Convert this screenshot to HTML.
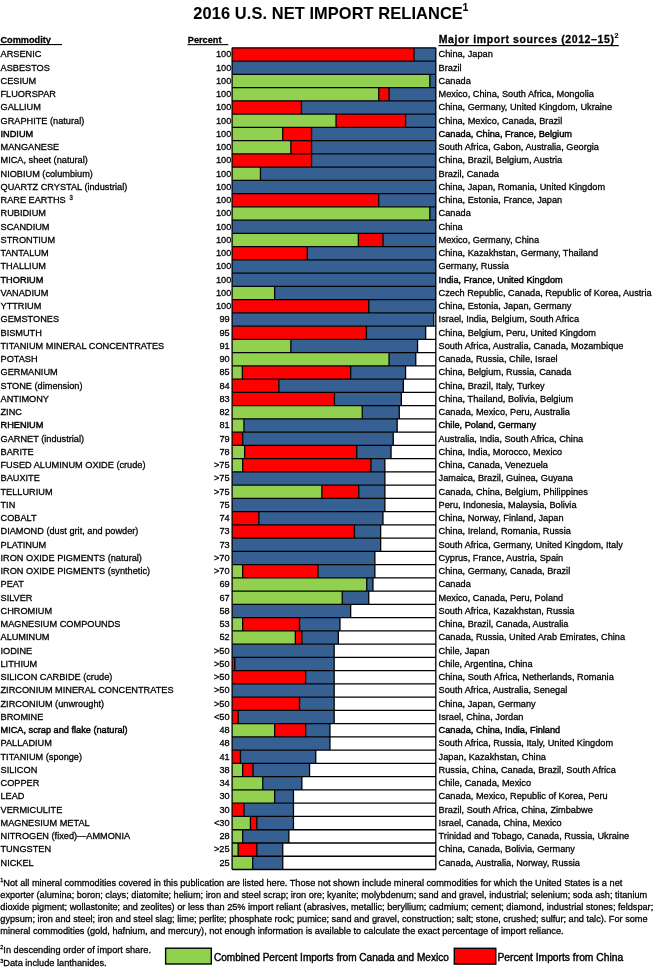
<!DOCTYPE html>
<html><head><meta charset="utf-8"><style>
html,body{margin:0;padding:0;background:#fff;}
body{width:656px;height:970px;overflow:hidden;position:relative;}
svg{position:absolute;left:0;top:0;}
text{font-family:"Liberation Sans",Arial,sans-serif;font-size:9.2px;fill:#000;stroke:#000;stroke-width:0.28px;}
.sup{font-size:6px;}
.ft{font-size:9.2px;}
.fs{font-size:5.5px;}
.hd{font-weight:bold;}
.bb{stroke-width:0.42px;}
.lg{font-size:10.2px;stroke-width:0.4px;}
</style></head><body>
<svg width="656" height="970" viewBox="0 0 656 970">
<text x="193.3" y="19.1" style="font-size:16.4px;font-weight:bold;stroke-width:0.05px" textLength="269.5" lengthAdjust="spacing">2016 U.S. NET IMPORT RELIANCE</text>
<text x="462.4" y="11.0" style="font-size:10.6px;font-weight:bold;stroke-width:0.05px">1</text>
<text class="hd" x="0.4" y="42.7" style="font-size:9.2px">Commodity</text>
<rect x="0" y="44.0" width="62" height="1.1" fill="#000"/>
<text class="hd" x="187.8" y="42.8" style="font-size:9.2px">Percent</text>
<rect x="187.5" y="44.1" width="40.8" height="1.1" fill="#000"/>
<text class="hd" x="438.7" y="42.9" style="font-size:10.5px" textLength="175.2" lengthAdjust="spacing">Major import sources (2012–15)</text>
<text class="hd" x="614.6" y="37.6" style="font-size:7.2px;stroke-width:0.1px">2</text>
<rect x="438.5" y="45.0" width="180.3" height="1.2" fill="#000"/>
<rect x="232.10" y="47.80" width="203.70" height="13.253" fill="#fff"/><rect x="232.10" y="61.05" width="203.70" height="13.253" fill="#fff"/><rect x="232.10" y="74.31" width="203.70" height="13.253" fill="#fff"/><rect x="232.10" y="87.56" width="203.70" height="13.253" fill="#fff"/><rect x="232.10" y="100.81" width="203.70" height="13.253" fill="#fff"/><rect x="232.10" y="114.06" width="203.70" height="13.253" fill="#fff"/><rect x="232.10" y="127.32" width="203.70" height="13.253" fill="#fff"/><rect x="232.10" y="140.57" width="203.70" height="13.253" fill="#fff"/><rect x="232.10" y="153.82" width="203.70" height="13.253" fill="#fff"/><rect x="232.10" y="167.08" width="203.70" height="13.253" fill="#fff"/><rect x="232.10" y="180.33" width="203.70" height="13.253" fill="#fff"/><rect x="232.10" y="193.58" width="203.70" height="13.253" fill="#fff"/><rect x="232.10" y="206.84" width="203.70" height="13.253" fill="#fff"/><rect x="232.10" y="220.09" width="203.70" height="13.253" fill="#fff"/><rect x="232.10" y="233.34" width="203.70" height="13.253" fill="#fff"/><rect x="232.10" y="246.60" width="203.70" height="13.253" fill="#fff"/><rect x="232.10" y="259.85" width="203.70" height="13.253" fill="#fff"/><rect x="232.10" y="273.10" width="203.70" height="13.253" fill="#fff"/><rect x="232.10" y="286.35" width="203.70" height="13.253" fill="#fff"/><rect x="232.10" y="299.61" width="203.70" height="13.253" fill="#fff"/><rect x="232.10" y="312.86" width="203.70" height="13.253" fill="#fff"/><rect x="232.10" y="326.11" width="203.70" height="13.253" fill="#fff"/><rect x="232.10" y="339.37" width="203.70" height="13.253" fill="#fff"/><rect x="232.10" y="352.62" width="203.70" height="13.253" fill="#fff"/><rect x="232.10" y="365.87" width="203.70" height="13.253" fill="#fff"/><rect x="232.10" y="379.12" width="203.70" height="13.253" fill="#fff"/><rect x="232.10" y="392.38" width="203.70" height="13.253" fill="#fff"/><rect x="232.10" y="405.63" width="203.70" height="13.253" fill="#fff"/><rect x="232.10" y="418.88" width="203.70" height="13.253" fill="#fff"/><rect x="232.10" y="432.14" width="203.70" height="13.253" fill="#fff"/><rect x="232.10" y="445.39" width="203.70" height="13.253" fill="#fff"/><rect x="232.10" y="458.64" width="203.70" height="13.253" fill="#fff"/><rect x="232.10" y="471.90" width="203.70" height="13.253" fill="#fff"/><rect x="232.10" y="485.15" width="203.70" height="13.253" fill="#fff"/><rect x="232.10" y="498.40" width="203.70" height="13.253" fill="#fff"/><rect x="232.10" y="511.66" width="203.70" height="13.253" fill="#fff"/><rect x="232.10" y="524.91" width="203.70" height="13.253" fill="#fff"/><rect x="232.10" y="538.16" width="203.70" height="13.253" fill="#fff"/><rect x="232.10" y="551.41" width="203.70" height="13.253" fill="#fff"/><rect x="232.10" y="564.67" width="203.70" height="13.253" fill="#fff"/><rect x="232.10" y="577.92" width="203.70" height="13.253" fill="#fff"/><rect x="232.10" y="591.17" width="203.70" height="13.253" fill="#fff"/><rect x="232.10" y="604.43" width="203.70" height="13.253" fill="#fff"/><rect x="232.10" y="617.68" width="203.70" height="13.253" fill="#fff"/><rect x="232.10" y="630.93" width="203.70" height="13.253" fill="#fff"/><rect x="232.10" y="644.18" width="203.70" height="13.253" fill="#fff"/><rect x="232.10" y="657.44" width="203.70" height="13.253" fill="#fff"/><rect x="232.10" y="670.69" width="203.70" height="13.253" fill="#fff"/><rect x="232.10" y="683.94" width="203.70" height="13.253" fill="#fff"/><rect x="232.10" y="697.20" width="203.70" height="13.253" fill="#fff"/><rect x="232.10" y="710.45" width="203.70" height="13.253" fill="#fff"/><rect x="232.10" y="723.70" width="203.70" height="13.253" fill="#fff"/><rect x="232.10" y="736.96" width="203.70" height="13.253" fill="#fff"/><rect x="232.10" y="750.21" width="203.70" height="13.253" fill="#fff"/><rect x="232.10" y="763.46" width="203.70" height="13.253" fill="#fff"/><rect x="232.10" y="776.71" width="203.70" height="13.253" fill="#fff"/><rect x="232.10" y="789.97" width="203.70" height="13.253" fill="#fff"/><rect x="232.10" y="803.22" width="203.70" height="13.253" fill="#fff"/><rect x="232.10" y="816.47" width="203.70" height="13.253" fill="#fff"/><rect x="232.10" y="829.73" width="203.70" height="13.253" fill="#fff"/><rect x="232.10" y="842.98" width="203.70" height="13.253" fill="#fff"/><rect x="232.10" y="856.23" width="203.70" height="13.253" fill="#fff"/><rect x="232.10" y="47.80" width="181.85" height="13.253" fill="#FF0000"/><rect x="413.95" y="47.80" width="21.85" height="13.253" fill="#376092"/><rect x="232.10" y="61.05" width="203.70" height="13.253" fill="#376092"/><rect x="232.10" y="74.31" width="197.75" height="13.253" fill="#92D050"/><rect x="429.85" y="74.31" width="5.95" height="13.253" fill="#376092"/><rect x="232.10" y="87.56" width="146.65" height="13.253" fill="#92D050"/><rect x="378.75" y="87.56" width="10.30" height="13.253" fill="#FF0000"/><rect x="389.05" y="87.56" width="46.75" height="13.253" fill="#376092"/><rect x="232.10" y="100.81" width="69.35" height="13.253" fill="#FF0000"/><rect x="301.45" y="100.81" width="134.35" height="13.253" fill="#376092"/><rect x="232.10" y="114.06" width="103.95" height="13.253" fill="#92D050"/><rect x="336.05" y="114.06" width="69.50" height="13.253" fill="#FF0000"/><rect x="405.55" y="114.06" width="30.25" height="13.253" fill="#376092"/><rect x="232.10" y="127.32" width="50.65" height="13.253" fill="#92D050"/><rect x="282.75" y="127.32" width="28.80" height="13.253" fill="#FF0000"/><rect x="311.55" y="127.32" width="124.25" height="13.253" fill="#376092"/><rect x="232.10" y="140.57" width="58.75" height="13.253" fill="#92D050"/><rect x="290.85" y="140.57" width="20.70" height="13.253" fill="#FF0000"/><rect x="311.55" y="140.57" width="124.25" height="13.253" fill="#376092"/><rect x="232.10" y="153.82" width="79.45" height="13.253" fill="#FF0000"/><rect x="311.55" y="153.82" width="124.25" height="13.253" fill="#376092"/><rect x="232.10" y="167.08" width="28.35" height="13.253" fill="#92D050"/><rect x="260.45" y="167.08" width="175.35" height="13.253" fill="#376092"/><rect x="232.10" y="180.33" width="203.70" height="13.253" fill="#376092"/><rect x="232.10" y="193.58" width="146.65" height="13.253" fill="#FF0000"/><rect x="378.75" y="193.58" width="57.05" height="13.253" fill="#376092"/><rect x="232.10" y="206.84" width="197.75" height="13.253" fill="#92D050"/><rect x="429.85" y="206.84" width="5.95" height="13.253" fill="#376092"/><rect x="232.10" y="220.09" width="203.70" height="13.253" fill="#376092"/><rect x="232.10" y="233.34" width="126.25" height="13.253" fill="#92D050"/><rect x="358.35" y="233.34" width="24.60" height="13.253" fill="#FF0000"/><rect x="382.95" y="233.34" width="52.85" height="13.253" fill="#376092"/><rect x="232.10" y="246.60" width="75.25" height="13.253" fill="#FF0000"/><rect x="307.35" y="246.60" width="128.45" height="13.253" fill="#376092"/><rect x="232.10" y="259.85" width="203.70" height="13.253" fill="#376092"/><rect x="232.10" y="273.10" width="203.70" height="13.253" fill="#376092"/><rect x="232.10" y="286.35" width="42.55" height="13.253" fill="#92D050"/><rect x="274.65" y="286.35" width="161.15" height="13.253" fill="#376092"/><rect x="232.10" y="299.61" width="136.65" height="13.253" fill="#FF0000"/><rect x="368.75" y="299.61" width="67.05" height="13.253" fill="#376092"/><rect x="232.10" y="312.86" width="201.65" height="13.253" fill="#376092"/><rect x="232.10" y="326.11" width="134.35" height="13.253" fill="#FF0000"/><rect x="366.45" y="326.11" width="59.20" height="13.253" fill="#376092"/><rect x="232.10" y="339.37" width="58.75" height="13.253" fill="#92D050"/><rect x="290.85" y="339.37" width="126.70" height="13.253" fill="#376092"/><rect x="232.10" y="352.62" width="156.95" height="13.253" fill="#92D050"/><rect x="389.05" y="352.62" width="26.70" height="13.253" fill="#376092"/><rect x="232.10" y="365.87" width="10.25" height="13.253" fill="#92D050"/><rect x="242.35" y="365.87" width="108.30" height="13.253" fill="#FF0000"/><rect x="350.65" y="365.87" width="54.90" height="13.253" fill="#376092"/><rect x="232.10" y="379.12" width="46.75" height="13.253" fill="#FF0000"/><rect x="278.85" y="379.12" width="124.50" height="13.253" fill="#376092"/><rect x="232.10" y="392.38" width="102.35" height="13.253" fill="#FF0000"/><rect x="334.45" y="392.38" width="66.90" height="13.253" fill="#376092"/><rect x="232.10" y="405.63" width="130.15" height="13.253" fill="#92D050"/><rect x="362.25" y="405.63" width="37.00" height="13.253" fill="#376092"/><rect x="232.10" y="418.88" width="11.85" height="13.253" fill="#92D050"/><rect x="243.95" y="418.88" width="153.20" height="13.253" fill="#376092"/><rect x="232.10" y="432.14" width="10.55" height="13.253" fill="#FF0000"/><rect x="242.65" y="432.14" width="150.60" height="13.253" fill="#376092"/><rect x="232.10" y="445.39" width="12.55" height="13.253" fill="#92D050"/><rect x="244.65" y="445.39" width="112.10" height="13.253" fill="#FF0000"/><rect x="356.75" y="445.39" width="34.30" height="13.253" fill="#376092"/><rect x="232.10" y="458.64" width="10.55" height="13.253" fill="#92D050"/><rect x="242.65" y="458.64" width="128.30" height="13.253" fill="#FF0000"/><rect x="370.95" y="458.64" width="13.90" height="13.253" fill="#376092"/><rect x="232.10" y="471.90" width="152.75" height="13.253" fill="#376092"/><rect x="232.10" y="485.15" width="89.75" height="13.253" fill="#92D050"/><rect x="321.85" y="485.15" width="36.90" height="13.253" fill="#FF0000"/><rect x="358.75" y="485.15" width="26.10" height="13.253" fill="#376092"/><rect x="232.10" y="498.40" width="152.75" height="13.253" fill="#376092"/><rect x="232.10" y="511.66" width="26.75" height="13.253" fill="#FF0000"/><rect x="258.85" y="511.66" width="124.10" height="13.253" fill="#376092"/><rect x="232.10" y="524.91" width="122.35" height="13.253" fill="#FF0000"/><rect x="354.45" y="524.91" width="26.20" height="13.253" fill="#376092"/><rect x="232.10" y="538.16" width="148.55" height="13.253" fill="#376092"/><rect x="232.10" y="551.41" width="142.75" height="13.253" fill="#376092"/><rect x="232.10" y="564.67" width="10.55" height="13.253" fill="#92D050"/><rect x="242.65" y="564.67" width="75.30" height="13.253" fill="#FF0000"/><rect x="317.95" y="564.67" width="56.90" height="13.253" fill="#376092"/><rect x="232.10" y="577.92" width="134.65" height="13.253" fill="#92D050"/><rect x="366.75" y="577.92" width="6.20" height="13.253" fill="#376092"/><rect x="232.10" y="591.17" width="110.15" height="13.253" fill="#92D050"/><rect x="342.25" y="591.17" width="26.50" height="13.253" fill="#376092"/><rect x="232.10" y="604.43" width="118.55" height="13.253" fill="#376092"/><rect x="232.10" y="617.68" width="10.55" height="13.253" fill="#92D050"/><rect x="242.65" y="617.68" width="56.90" height="13.253" fill="#FF0000"/><rect x="299.55" y="617.68" width="40.40" height="13.253" fill="#376092"/><rect x="232.10" y="630.93" width="63.25" height="13.253" fill="#92D050"/><rect x="295.35" y="630.93" width="6.50" height="13.253" fill="#FF0000"/><rect x="301.85" y="630.93" width="36.50" height="13.253" fill="#376092"/><rect x="232.10" y="644.18" width="102.05" height="13.253" fill="#376092"/><rect x="232.10" y="657.44" width="2.65" height="13.253" fill="#FF0000"/><rect x="234.75" y="657.44" width="99.40" height="13.253" fill="#376092"/><rect x="232.10" y="670.69" width="73.55" height="13.253" fill="#FF0000"/><rect x="305.65" y="670.69" width="28.50" height="13.253" fill="#376092"/><rect x="232.10" y="683.94" width="102.05" height="13.253" fill="#376092"/><rect x="232.10" y="697.20" width="67.45" height="13.253" fill="#FF0000"/><rect x="299.55" y="697.20" width="34.60" height="13.253" fill="#376092"/><rect x="232.10" y="710.45" width="6.05" height="13.253" fill="#FF0000"/><rect x="238.15" y="710.45" width="96.00" height="13.253" fill="#376092"/><rect x="232.10" y="723.70" width="42.55" height="13.253" fill="#92D050"/><rect x="274.65" y="723.70" width="31.00" height="13.253" fill="#FF0000"/><rect x="305.65" y="723.70" width="24.30" height="13.253" fill="#376092"/><rect x="232.10" y="736.96" width="97.85" height="13.253" fill="#376092"/><rect x="232.10" y="750.21" width="8.35" height="13.253" fill="#FF0000"/><rect x="240.45" y="750.21" width="75.30" height="13.253" fill="#376092"/><rect x="232.10" y="763.46" width="10.55" height="13.253" fill="#92D050"/><rect x="242.65" y="763.46" width="10.40" height="13.253" fill="#FF0000"/><rect x="253.05" y="763.46" width="56.50" height="13.253" fill="#376092"/><rect x="232.10" y="776.71" width="30.65" height="13.253" fill="#92D050"/><rect x="262.75" y="776.71" width="39.10" height="13.253" fill="#376092"/><rect x="232.10" y="789.97" width="42.55" height="13.253" fill="#92D050"/><rect x="274.65" y="789.97" width="18.80" height="13.253" fill="#376092"/><rect x="232.10" y="803.22" width="11.85" height="13.253" fill="#FF0000"/><rect x="243.95" y="803.22" width="49.50" height="13.253" fill="#376092"/><rect x="232.10" y="816.47" width="18.35" height="13.253" fill="#92D050"/><rect x="250.45" y="816.47" width="6.40" height="13.253" fill="#FF0000"/><rect x="256.85" y="816.47" width="36.60" height="13.253" fill="#376092"/><rect x="232.10" y="829.73" width="10.55" height="13.253" fill="#92D050"/><rect x="242.65" y="829.73" width="46.20" height="13.253" fill="#376092"/><rect x="232.10" y="842.98" width="6.05" height="13.253" fill="#92D050"/><rect x="238.15" y="842.98" width="18.70" height="13.253" fill="#FF0000"/><rect x="256.85" y="842.98" width="25.90" height="13.253" fill="#376092"/><rect x="232.10" y="856.23" width="20.55" height="13.253" fill="#92D050"/><rect x="252.65" y="856.23" width="30.10" height="13.253" fill="#376092"/><path d="M232.10 47.80H435.80 M232.10 61.05H435.80 M232.10 74.31H435.80 M232.10 87.56H435.80 M232.10 100.81H435.80 M232.10 114.06H435.80 M232.10 127.32H435.80 M232.10 140.57H435.80 M232.10 153.82H435.80 M232.10 167.08H435.80 M232.10 180.33H435.80 M232.10 193.58H435.80 M232.10 206.84H435.80 M232.10 220.09H435.80 M232.10 233.34H435.80 M232.10 246.60H435.80 M232.10 259.85H435.80 M232.10 273.10H435.80 M232.10 286.35H435.80 M232.10 299.61H435.80 M232.10 312.86H435.80 M232.10 326.11H435.80 M232.10 339.37H435.80 M232.10 352.62H435.80 M232.10 365.87H435.80 M232.10 379.12H435.80 M232.10 392.38H435.80 M232.10 405.63H435.80 M232.10 418.88H435.80 M232.10 432.14H435.80 M232.10 445.39H435.80 M232.10 458.64H435.80 M232.10 471.90H435.80 M232.10 485.15H435.80 M232.10 498.40H435.80 M232.10 511.66H435.80 M232.10 524.91H435.80 M232.10 538.16H435.80 M232.10 551.41H435.80 M232.10 564.67H435.80 M232.10 577.92H435.80 M232.10 591.17H435.80 M232.10 604.43H435.80 M232.10 617.68H435.80 M232.10 630.93H435.80 M232.10 644.18H435.80 M232.10 657.44H435.80 M232.10 670.69H435.80 M232.10 683.94H435.80 M232.10 697.20H435.80 M232.10 710.45H435.80 M232.10 723.70H435.80 M232.10 736.96H435.80 M232.10 750.21H435.80 M232.10 763.46H435.80 M232.10 776.71H435.80 M232.10 789.97H435.80 M232.10 803.22H435.80 M232.10 816.47H435.80 M232.10 829.73H435.80 M232.10 842.98H435.80 M232.10 856.23H435.80 M232.10 869.49H435.80 M232.10 47.80V869.49 M435.80 47.80V869.49 M413.95 47.80v13.253 M429.85 74.31v13.253 M378.75 87.56v13.253 M389.05 87.56v13.253 M301.45 100.81v13.253 M336.05 114.06v13.253 M405.55 114.06v13.253 M282.75 127.32v13.253 M311.55 127.32v13.253 M290.85 140.57v13.253 M311.55 140.57v13.253 M311.55 153.82v13.253 M260.45 167.08v13.253 M378.75 193.58v13.253 M429.85 206.84v13.253 M358.35 233.34v13.253 M382.95 233.34v13.253 M307.35 246.60v13.253 M274.65 286.35v13.253 M368.75 299.61v13.253 M433.75 312.86v13.253 M366.45 326.11v13.253 M425.65 326.11v13.253 M290.85 339.37v13.253 M417.55 339.37v13.253 M389.05 352.62v13.253 M415.75 352.62v13.253 M242.35 365.87v13.253 M350.65 365.87v13.253 M405.55 365.87v13.253 M278.85 379.12v13.253 M403.35 379.12v13.253 M334.45 392.38v13.253 M401.35 392.38v13.253 M362.25 405.63v13.253 M399.25 405.63v13.253 M243.95 418.88v13.253 M397.15 418.88v13.253 M242.65 432.14v13.253 M393.25 432.14v13.253 M244.65 445.39v13.253 M356.75 445.39v13.253 M391.05 445.39v13.253 M242.65 458.64v13.253 M370.95 458.64v13.253 M384.85 458.64v13.253 M384.85 471.90v13.253 M321.85 485.15v13.253 M358.75 485.15v13.253 M384.85 485.15v13.253 M384.85 498.40v13.253 M258.85 511.66v13.253 M382.95 511.66v13.253 M354.45 524.91v13.253 M380.65 524.91v13.253 M380.65 538.16v13.253 M374.85 551.41v13.253 M242.65 564.67v13.253 M317.95 564.67v13.253 M374.85 564.67v13.253 M366.75 577.92v13.253 M372.95 577.92v13.253 M342.25 591.17v13.253 M368.75 591.17v13.253 M350.65 604.43v13.253 M242.65 617.68v13.253 M299.55 617.68v13.253 M339.95 617.68v13.253 M295.35 630.93v13.253 M301.85 630.93v13.253 M338.35 630.93v13.253 M334.15 644.18v13.253 M234.75 657.44v13.253 M334.15 657.44v13.253 M305.65 670.69v13.253 M334.15 670.69v13.253 M334.15 683.94v13.253 M299.55 697.20v13.253 M334.15 697.20v13.253 M238.15 710.45v13.253 M334.15 710.45v13.253 M274.65 723.70v13.253 M305.65 723.70v13.253 M329.95 723.70v13.253 M329.95 736.96v13.253 M240.45 750.21v13.253 M315.75 750.21v13.253 M242.65 763.46v13.253 M253.05 763.46v13.253 M309.55 763.46v13.253 M262.75 776.71v13.253 M301.85 776.71v13.253 M274.65 789.97v13.253 M293.45 789.97v13.253 M243.95 803.22v13.253 M293.45 803.22v13.253 M250.45 816.47v13.253 M256.85 816.47v13.253 M293.45 816.47v13.253 M242.65 829.73v13.253 M288.85 829.73v13.253 M238.15 842.98v13.253 M256.85 842.98v13.253 M282.75 842.98v13.253 M252.65 856.23v13.253 M282.75 856.23v13.253" stroke="#000" stroke-width="1.3" fill="none"/>
<text transform="translate(0.5 57.30) scale(1 1.08)">ARSENIC</text><text transform="translate(231.3 57.30) scale(1 1.08)" text-anchor="end">100</text><text transform="translate(438.6 57.30) scale(1 1.08)">China, Japan</text><text transform="translate(0.5 70.55) scale(1 1.08)">ASBESTOS</text><text transform="translate(231.3 70.55) scale(1 1.08)" text-anchor="end">100</text><text transform="translate(438.6 70.55) scale(1 1.08)">Brazil</text><text transform="translate(0.5 83.81) scale(1 1.08)">CESIUM</text><text transform="translate(231.3 83.81) scale(1 1.08)" text-anchor="end">100</text><text transform="translate(438.6 83.81) scale(1 1.08)">Canada</text><text transform="translate(0.5 97.06) scale(1 1.08)">FLUORSPAR</text><text transform="translate(231.3 97.06) scale(1 1.08)" text-anchor="end">100</text><text transform="translate(438.6 97.06) scale(1 1.08)">Mexico, China, South Africa, Mongolia</text><text transform="translate(0.5 110.31) scale(1 1.08)">GALLIUM</text><text transform="translate(231.3 110.31) scale(1 1.08)" text-anchor="end">100</text><text transform="translate(438.6 110.31) scale(1 1.08)">China, Germany, United Kingdom, Ukraine</text><text transform="translate(0.5 123.56) scale(1 1.08)">GRAPHITE (natural)</text><text transform="translate(231.3 123.56) scale(1 1.08)" text-anchor="end">100</text><text transform="translate(438.6 123.56) scale(1 1.08)">China, Mexico, Canada, Brazil</text><text class="bb" transform="translate(0.5 136.82) scale(1 1.08)">INDIUM</text><text transform="translate(231.3 136.82) scale(1 1.08)" text-anchor="end">100</text><text class="bb" transform="translate(438.6 136.82) scale(1 1.08)">Canada, China, France, Belgium</text><text transform="translate(0.5 150.07) scale(1 1.08)">MANGANESE</text><text transform="translate(231.3 150.07) scale(1 1.08)" text-anchor="end">100</text><text transform="translate(438.6 150.07) scale(1 1.08)">South Africa, Gabon, Australia, Georgia</text><text transform="translate(0.5 163.32) scale(1 1.08)">MICA, sheet (natural)</text><text transform="translate(231.3 163.32) scale(1 1.08)" text-anchor="end">100</text><text transform="translate(438.6 163.32) scale(1 1.08)">China, Brazil, Belgium, Austria</text><text transform="translate(0.5 176.58) scale(1 1.08)">NIOBIUM (columbium)</text><text transform="translate(231.3 176.58) scale(1 1.08)" text-anchor="end">100</text><text transform="translate(438.6 176.58) scale(1 1.08)">Brazil, Canada</text><text transform="translate(0.5 189.83) scale(1 1.08)">QUARTZ CRYSTAL (industrial)</text><text transform="translate(231.3 189.83) scale(1 1.08)" text-anchor="end">100</text><text transform="translate(438.6 189.83) scale(1 1.08)">China, Japan, Romania, United Kingdom</text><text transform="translate(0.5 203.08) scale(1 1.08)">RARE EARTHS <tspan class='sup' dx='1.2' dy='-3'>3</tspan></text><text transform="translate(231.3 203.08) scale(1 1.08)" text-anchor="end">100</text><text transform="translate(438.6 203.08) scale(1 1.08)">China, Estonia, France, Japan</text><text transform="translate(0.5 216.34) scale(1 1.08)">RUBIDIUM</text><text transform="translate(231.3 216.34) scale(1 1.08)" text-anchor="end">100</text><text transform="translate(438.6 216.34) scale(1 1.08)">Canada</text><text transform="translate(0.5 229.59) scale(1 1.08)">SCANDIUM</text><text transform="translate(231.3 229.59) scale(1 1.08)" text-anchor="end">100</text><text transform="translate(438.6 229.59) scale(1 1.08)">China</text><text transform="translate(0.5 242.84) scale(1 1.08)">STRONTIUM</text><text transform="translate(231.3 242.84) scale(1 1.08)" text-anchor="end">100</text><text transform="translate(438.6 242.84) scale(1 1.08)">Mexico, Germany, China</text><text transform="translate(0.5 256.10) scale(1 1.08)">TANTALUM</text><text transform="translate(231.3 256.10) scale(1 1.08)" text-anchor="end">100</text><text transform="translate(438.6 256.10) scale(1 1.08)">China, Kazakhstan, Germany, Thailand</text><text transform="translate(0.5 269.35) scale(1 1.08)">THALLIUM</text><text transform="translate(231.3 269.35) scale(1 1.08)" text-anchor="end">100</text><text transform="translate(438.6 269.35) scale(1 1.08)">Germany, Russia</text><text class="bb" transform="translate(0.5 282.60) scale(1 1.08)">THORIUM</text><text transform="translate(231.3 282.60) scale(1 1.08)" text-anchor="end">100</text><text class="bb" transform="translate(438.6 282.60) scale(1 1.08)">India, France, United Kingdom</text><text transform="translate(0.5 295.85) scale(1 1.08)">VANADIUM</text><text transform="translate(231.3 295.85) scale(1 1.08)" text-anchor="end">100</text><text transform="translate(438.6 295.85) scale(1 1.08)">Czech Republic, Canada, Republic of Korea, Austria</text><text transform="translate(0.5 309.11) scale(1 1.08)">YTTRIUM</text><text transform="translate(231.3 309.11) scale(1 1.08)" text-anchor="end">100</text><text transform="translate(438.6 309.11) scale(1 1.08)">China, Estonia, Japan, Germany</text><text transform="translate(0.5 322.36) scale(1 1.08)">GEMSTONES</text><text transform="translate(229.6 322.36) scale(1 1.08)" text-anchor="end">99</text><text transform="translate(438.6 322.36) scale(1 1.08)">Israel, India, Belgium, South Africa</text><text transform="translate(0.5 335.61) scale(1 1.08)">BISMUTH</text><text transform="translate(229.6 335.61) scale(1 1.08)" text-anchor="end">95</text><text transform="translate(438.6 335.61) scale(1 1.08)">China, Belgium, Peru, United Kingdom</text><text transform="translate(0.5 348.87) scale(1 1.08)">TITANIUM MINERAL CONCENTRATES</text><text transform="translate(229.6 348.87) scale(1 1.08)" text-anchor="end">91</text><text transform="translate(438.6 348.87) scale(1 1.08)">South Africa, Australia, Canada, Mozambique</text><text transform="translate(0.5 362.12) scale(1 1.08)">POTASH</text><text transform="translate(229.6 362.12) scale(1 1.08)" text-anchor="end">90</text><text transform="translate(438.6 362.12) scale(1 1.08)">Canada, Russia, Chile, Israel</text><text transform="translate(0.5 375.37) scale(1 1.08)">GERMANIUM</text><text transform="translate(229.6 375.37) scale(1 1.08)" text-anchor="end">85</text><text transform="translate(438.6 375.37) scale(1 1.08)">China, Belgium, Russia, Canada</text><text transform="translate(0.5 388.62) scale(1 1.08)">STONE (dimension)</text><text transform="translate(229.6 388.62) scale(1 1.08)" text-anchor="end">84</text><text transform="translate(438.6 388.62) scale(1 1.08)">China, Brazil, Italy, Turkey</text><text transform="translate(0.5 401.88) scale(1 1.08)">ANTIMONY</text><text transform="translate(229.6 401.88) scale(1 1.08)" text-anchor="end">83</text><text transform="translate(438.6 401.88) scale(1 1.08)">China, Thailand, Bolivia, Belgium</text><text transform="translate(0.5 415.13) scale(1 1.08)">ZINC</text><text transform="translate(229.6 415.13) scale(1 1.08)" text-anchor="end">82</text><text transform="translate(438.6 415.13) scale(1 1.08)">Canada, Mexico, Peru, Australia</text><text class="bb" transform="translate(0.5 428.38) scale(1 1.08)">RHENIUM</text><text transform="translate(229.6 428.38) scale(1 1.08)" text-anchor="end">81</text><text class="bb" transform="translate(438.6 428.38) scale(1 1.08)">Chile, Poland, Germany</text><text transform="translate(0.5 441.64) scale(1 1.08)">GARNET (industrial)</text><text transform="translate(229.6 441.64) scale(1 1.08)" text-anchor="end">79</text><text transform="translate(438.6 441.64) scale(1 1.08)">Australia, India, South Africa, China</text><text transform="translate(0.5 454.89) scale(1 1.08)">BARITE</text><text transform="translate(229.6 454.89) scale(1 1.08)" text-anchor="end">78</text><text transform="translate(438.6 454.89) scale(1 1.08)">China, India, Morocco, Mexico</text><text transform="translate(0.5 468.14) scale(1 1.08)">FUSED ALUMINUM OXIDE (crude)</text><text transform="translate(229.6 468.14) scale(1 1.08)" text-anchor="end">&gt;75</text><text transform="translate(438.6 468.14) scale(1 1.08)">China, Canada, Venezuela</text><text transform="translate(0.5 481.40) scale(1 1.08)">BAUXITE</text><text transform="translate(229.6 481.40) scale(1 1.08)" text-anchor="end">&gt;75</text><text transform="translate(438.6 481.40) scale(1 1.08)">Jamaica, Brazil, Guinea, Guyana</text><text transform="translate(0.5 494.65) scale(1 1.08)">TELLURIUM</text><text transform="translate(229.6 494.65) scale(1 1.08)" text-anchor="end">&gt;75</text><text transform="translate(438.6 494.65) scale(1 1.08)">Canada, China, Belgium, Philippines</text><text transform="translate(0.5 507.90) scale(1 1.08)">TIN</text><text transform="translate(229.6 507.90) scale(1 1.08)" text-anchor="end">75</text><text transform="translate(438.6 507.90) scale(1 1.08)">Peru, Indonesia, Malaysia, Bolivia</text><text transform="translate(0.5 521.15) scale(1 1.08)">COBALT</text><text transform="translate(229.6 521.15) scale(1 1.08)" text-anchor="end">74</text><text transform="translate(438.6 521.15) scale(1 1.08)">China, Norway, Finland, Japan</text><text transform="translate(0.5 534.41) scale(1 1.08)">DIAMOND (dust grit, and powder)</text><text transform="translate(229.6 534.41) scale(1 1.08)" text-anchor="end">73</text><text transform="translate(438.6 534.41) scale(1 1.08)">China, Ireland, Romania, Russia</text><text transform="translate(0.5 547.66) scale(1 1.08)">PLATINUM</text><text transform="translate(229.6 547.66) scale(1 1.08)" text-anchor="end">73</text><text transform="translate(438.6 547.66) scale(1 1.08)">South Africa, Germany, United Kingdom, Italy</text><text transform="translate(0.5 560.91) scale(1 1.08)">IRON OXIDE PIGMENTS (natural)</text><text transform="translate(229.6 560.91) scale(1 1.08)" text-anchor="end">&gt;70</text><text transform="translate(438.6 560.91) scale(1 1.08)">Cyprus, France, Austria, Spain</text><text transform="translate(0.5 574.17) scale(1 1.08)">IRON OXIDE PIGMENTS (synthetic)</text><text transform="translate(229.6 574.17) scale(1 1.08)" text-anchor="end">&gt;70</text><text transform="translate(438.6 574.17) scale(1 1.08)">China, Germany, Canada, Brazil</text><text transform="translate(0.5 587.42) scale(1 1.08)">PEAT</text><text transform="translate(229.6 587.42) scale(1 1.08)" text-anchor="end">69</text><text transform="translate(438.6 587.42) scale(1 1.08)">Canada</text><text transform="translate(0.5 600.67) scale(1 1.08)">SILVER</text><text transform="translate(229.6 600.67) scale(1 1.08)" text-anchor="end">67</text><text transform="translate(438.6 600.67) scale(1 1.08)">Mexico, Canada, Peru, Poland</text><text transform="translate(0.5 613.93) scale(1 1.08)">CHROMIUM</text><text transform="translate(229.6 613.93) scale(1 1.08)" text-anchor="end">58</text><text transform="translate(438.6 613.93) scale(1 1.08)">South Africa, Kazakhstan, Russia</text><text transform="translate(0.5 627.18) scale(1 1.08)">MAGNESIUM COMPOUNDS</text><text transform="translate(229.6 627.18) scale(1 1.08)" text-anchor="end">53</text><text transform="translate(438.6 627.18) scale(1 1.08)">China, Brazil, Canada, Australia</text><text transform="translate(0.5 640.43) scale(1 1.08)">ALUMINUM</text><text transform="translate(229.6 640.43) scale(1 1.08)" text-anchor="end">52</text><text transform="translate(438.6 640.43) scale(1 1.08)">Canada, Russia, United Arab Emirates, China</text><text transform="translate(0.5 653.68) scale(1 1.08)">IODINE</text><text transform="translate(229.6 653.68) scale(1 1.08)" text-anchor="end">&gt;50</text><text transform="translate(438.6 653.68) scale(1 1.08)">Chile, Japan</text><text transform="translate(0.5 666.94) scale(1 1.08)">LITHIUM</text><text transform="translate(229.6 666.94) scale(1 1.08)" text-anchor="end">&gt;50</text><text transform="translate(438.6 666.94) scale(1 1.08)">Chile, Argentina, China</text><text transform="translate(0.5 680.19) scale(1 1.08)">SILICON CARBIDE (crude)</text><text transform="translate(229.6 680.19) scale(1 1.08)" text-anchor="end">&gt;50</text><text transform="translate(438.6 680.19) scale(1 1.08)">China, South Africa, Netherlands, Romania</text><text transform="translate(0.5 693.44) scale(1 1.08)">ZIRCONIUM MINERAL CONCENTRATES</text><text transform="translate(229.6 693.44) scale(1 1.08)" text-anchor="end">&gt;50</text><text transform="translate(438.6 693.44) scale(1 1.08)">South Africa, Australia, Senegal</text><text transform="translate(0.5 706.70) scale(1 1.08)">ZIRCONIUM (unwrought)</text><text transform="translate(229.6 706.70) scale(1 1.08)" text-anchor="end">&gt;50</text><text transform="translate(438.6 706.70) scale(1 1.08)">China, Japan, Germany</text><text transform="translate(0.5 719.95) scale(1 1.08)">BROMINE</text><text transform="translate(229.6 719.95) scale(1 1.08)" text-anchor="end">&lt;50</text><text transform="translate(438.6 719.95) scale(1 1.08)">Israel, China, Jordan</text><text class="bb" transform="translate(0.5 733.20) scale(1 1.08)">MICA, scrap and flake (natural)</text><text transform="translate(229.6 733.20) scale(1 1.08)" text-anchor="end">48</text><text class="bb" transform="translate(438.6 733.20) scale(1 1.08)">Canada, China, India, Finland</text><text transform="translate(0.5 746.46) scale(1 1.08)">PALLADIUM</text><text transform="translate(229.6 746.46) scale(1 1.08)" text-anchor="end">48</text><text transform="translate(438.6 746.46) scale(1 1.08)">South Africa, Russia, Italy, United Kingdom</text><text transform="translate(0.5 759.71) scale(1 1.08)">TITANIUM (sponge)</text><text transform="translate(229.6 759.71) scale(1 1.08)" text-anchor="end">41</text><text transform="translate(438.6 759.71) scale(1 1.08)">Japan, Kazakhstan, China</text><text transform="translate(0.5 772.96) scale(1 1.08)">SILICON</text><text transform="translate(229.6 772.96) scale(1 1.08)" text-anchor="end">38</text><text transform="translate(438.6 772.96) scale(1 1.08)">Russia, China, Canada, Brazil, South Africa</text><text transform="translate(0.5 786.21) scale(1 1.08)">COPPER</text><text transform="translate(229.6 786.21) scale(1 1.08)" text-anchor="end">34</text><text transform="translate(438.6 786.21) scale(1 1.08)">Chile, Canada, Mexico</text><text transform="translate(0.5 799.47) scale(1 1.08)">LEAD</text><text transform="translate(229.6 799.47) scale(1 1.08)" text-anchor="end">30</text><text transform="translate(438.6 799.47) scale(1 1.08)">Canada, Mexico, Republic of Korea, Peru</text><text transform="translate(0.5 812.72) scale(1 1.08)">VERMICULITE</text><text transform="translate(229.6 812.72) scale(1 1.08)" text-anchor="end">30</text><text transform="translate(438.6 812.72) scale(1 1.08)">Brazil, South Africa, China, Zimbabwe</text><text transform="translate(0.5 825.97) scale(1 1.08)">MAGNESIUM METAL</text><text transform="translate(229.6 825.97) scale(1 1.08)" text-anchor="end">&lt;30</text><text transform="translate(438.6 825.97) scale(1 1.08)">Israel, Canada, China, Mexico</text><text transform="translate(0.5 839.23) scale(1 1.08)">NITROGEN (fixed)—AMMONIA</text><text transform="translate(229.6 839.23) scale(1 1.08)" text-anchor="end">28</text><text transform="translate(438.6 839.23) scale(1 1.08)">Trinidad and Tobago, Canada, Russia, Ukraine</text><text transform="translate(0.5 852.48) scale(1 1.08)">TUNGSTEN</text><text transform="translate(229.6 852.48) scale(1 1.08)" text-anchor="end">&gt;25</text><text transform="translate(438.6 852.48) scale(1 1.08)">China, Canada, Bolivia, Germany</text><text transform="translate(0.5 865.73) scale(1 1.08)">NICKEL</text><text transform="translate(229.6 865.73) scale(1 1.08)" text-anchor="end">25</text><text transform="translate(438.6 865.73) scale(1 1.08)">Canada, Australia, Norway, Russia</text>
<text class="ft" x="0.3" y="885.50" textLength="622.0" lengthAdjust="spacing"><tspan class='fs' dy='-3.2'>1</tspan><tspan dy='3.2'>Not all mineral commodities covered in this publication are listed here. Those not shown include mineral commodities for which the United States is a net</tspan></text><text class="ft" x="0.3" y="897.57" textLength="646.9" lengthAdjust="spacing">exporter (alumina; boron; clays; diatomite; helium; iron and steel scrap; iron ore; kyanite; molybdenum; sand and gravel, industrial; selenium; soda ash; titanium</text><text class="ft" x="0.3" y="909.64" textLength="652.9" lengthAdjust="spacing">dioxide pigment; wollastonite; and zeolites) or less than 25% import reliant (abrasives, metallic; beryllium; cadmium; cement; diamond, industrial stones; feldspar;</text><text class="ft" x="0.3" y="921.71" textLength="647.3" lengthAdjust="spacing">gypsum; iron and steel; iron and steel slag; lime; perlite; phosphate rock; pumice; sand and gravel, construction; salt; stone, crushed; sulfur; and talc). For some</text><text class="ft" x="0.3" y="933.78" textLength="563.3" lengthAdjust="spacing">mineral commodities (gold, hafnium, and mercury), not enough information is available to calculate the exact percentage of import reliance.</text>
<text class="ft" x="0.3" y="952.5"><tspan class="fs" dy="-3.2">2</tspan><tspan dy="3.2">In descending order of import share.</tspan></text>
<text class="ft" x="0.3" y="966.4"><tspan class="fs" dy="-3.2">3</tspan><tspan dy="3.2">Data include lanthanides.</tspan></text>
<rect x="165.6" y="948.2" width="45.7" height="15.8" fill="#92D050" stroke="#000" stroke-width="1.4"/>
<text class="lg" x="214" y="961" textLength="234.8" lengthAdjust="spacingAndGlyphs">Combined Percent Imports from Canada and Mexico</text>
<rect x="454.3" y="948.3" width="41.5" height="15.8" fill="#FF0000" stroke="#000" stroke-width="1.4"/>
<text class="lg" x="497.4" y="961" textLength="125.8" lengthAdjust="spacingAndGlyphs">Percent Imports from China</text>
</svg>
</body></html>
